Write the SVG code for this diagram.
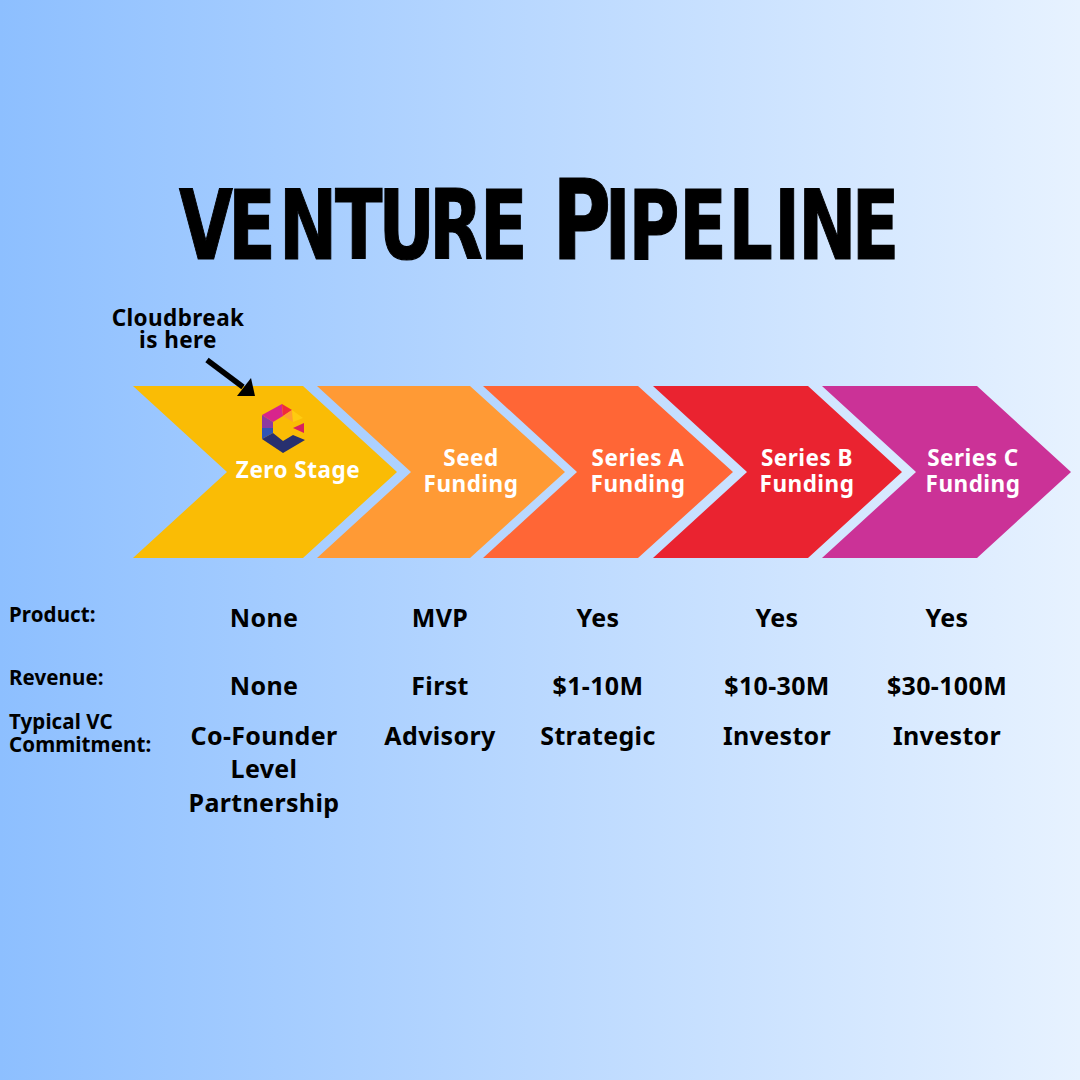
<svg xmlns="http://www.w3.org/2000/svg" width="1080" height="1080" viewBox="0 0 1080 1080">
<style>
text{font-family:"Noto Sans","Liberation Sans",sans-serif;font-weight:700;fill:#000}
.t{font-family:"DejaVu Sans",sans-serif;font-size:96px;stroke:#000;stroke-width:1.2px}
.w{fill:#fff;font-size:22.5px;text-anchor:middle;letter-spacing:.5px}
.v{font-size:25px;text-anchor:middle;letter-spacing:.35px}
.l{font-size:20.5px;letter-spacing:.1px}
.n{font-size:22.5px;text-anchor:middle;letter-spacing:.4px}
</style>
<defs>
<linearGradient id="bg" x1="0" y1="0" x2="1" y2="0"><stop offset="0" stop-color="#8dbfff"/><stop offset="1" stop-color="#e7f2ff"/></linearGradient>
</defs>
<rect width="1080" height="1080" fill="url(#bg)"/>
<g id="title" transform="scale(.725 1)">
<text class="t" y="259" x="247 315 385 462 522 592 662">VENTURE</text>
<text class="t" y="259" x="762" style="font-size:110px">P</text>
<text class="t" y="259" x="834 867 937 1005 1068 1101 1175">IPELINE</text>
</g>
<g id="zero-stage">
<polygon points="133,386 303,386 397,472 303,558 133,558 227,472" fill="#fabc05"/>
<g id="logo">
<polygon points="282,404 262,415 273,422 283,416" fill="#d8248c"/>
<polygon points="282,404 283,416 292,410" fill="#f02a3c"/>
<polygon points="292,410 283,416 293,422" fill="#ffa02e"/>
<polygon points="292,410 303,418 293,422" fill="#ffcb10"/>
<polygon points="262,415 273,422 273,428 262,428" fill="#8e3aa0"/>
<polygon points="262,428 273,428 273,433 262,439" fill="#2f55b5"/>
<polygon points="262,439 273,433 283,441 293,435 305,440 283,453" fill="#28306f"/>
<polygon points="293,428 304,423 304,433" fill="#d81f5f"/>
</g>
<text class="w" x="298" y="478">Zero Stage</text>
</g>
<g id="seed-funding">
<polygon points="317,386 470,386 565,472 470,558 317,558 411,472" fill="#ff9a35"/>
<text class="w" x="471" y="466">Seed</text><text class="w" x="471" y="492">Funding</text>
</g>
<g id="series-a">
<polygon points="483,386 638,386 733,472 638,558 483,558 577,472" fill="#ff6636"/>
<text class="w" x="638" y="466">Series A</text><text class="w" x="638" y="492">Funding</text>
</g>
<g id="series-b">
<polygon points="653,386 808,386 902,472 808,558 653,558 747,472" fill="#ea2330"/>
<text class="w" x="807" y="466">Series B</text><text class="w" x="807" y="492">Funding</text>
</g>
<g id="series-c">
<polygon points="822,386 977,386 1071,472 977,558 822,558 916,472" fill="#cb3297"/>
<text class="w" x="973" y="466">Series C</text><text class="w" x="973" y="492">Funding</text>
</g>
<g id="note">
<text class="n" x="178" y="326">Cloudbreak</text><text class="n" x="178" y="348">is here</text>
</g>
<g id="connectors">
<line x1="207" y1="360" x2="243" y2="387" stroke="#000" stroke-width="5.5"/>
<polygon points="251,378 237,396 255,396" fill="#000"/>
</g>
<g id="row-labels">
<text class="l" x="9" y="622">Product:</text>
<text class="l" x="9" y="685">Revenue:</text>
<text class="l" x="9" y="729">Typical VC</text>
<text class="l" x="9" y="752">Commitment:</text>
</g>
<g id="col-zero"><text class="v" x="264" y="627">None</text><text class="v" x="264" y="695">None</text><text class="v" x="264" y="745">Co-Founder</text><text class="v" x="264" y="778">Level</text><text class="v" x="264" y="812">Partnership</text></g>
<g id="col-seed"><text class="v" x="440" y="627">MVP</text><text class="v" x="440" y="695">First</text><text class="v" x="440" y="745">Advisory</text></g>
<g id="col-a"><text class="v" x="598" y="627">Yes</text><text class="v" x="598" y="695">$1-10M</text><text class="v" x="598" y="745">Strategic</text></g>
<g id="col-b"><text class="v" x="777" y="627">Yes</text><text class="v" x="777" y="695">$10-30M</text><text class="v" x="777" y="745">Investor</text></g>
<g id="col-c"><text class="v" x="947" y="627">Yes</text><text class="v" x="947" y="695">$30-100M</text><text class="v" x="947" y="745">Investor</text></g>
</svg>
